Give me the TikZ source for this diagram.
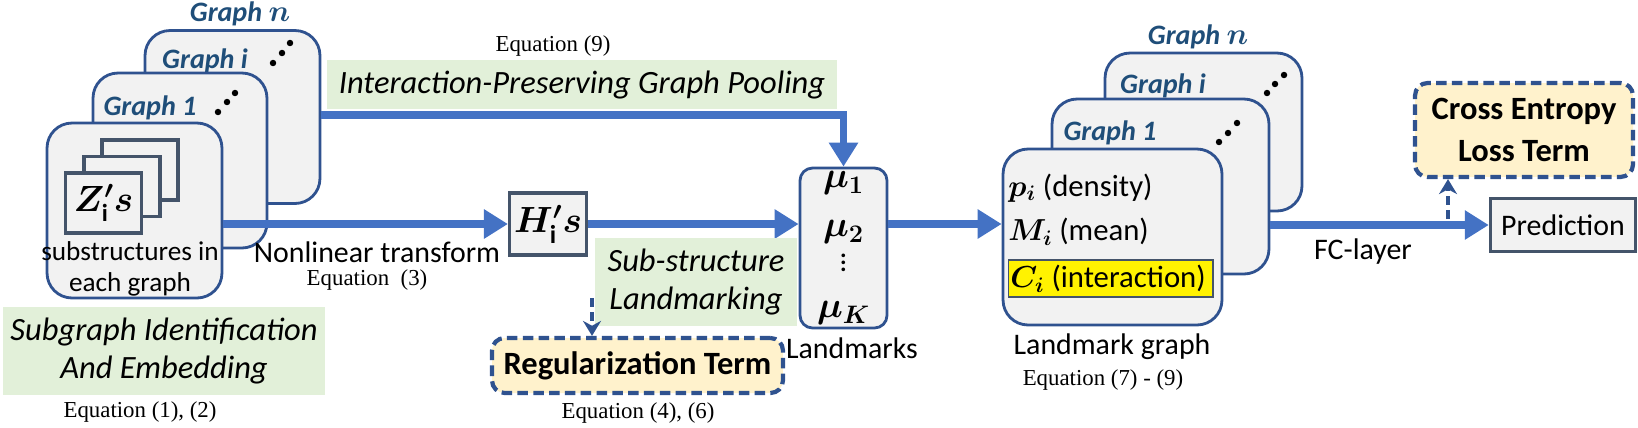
\documentclass[tikz,border=0pt]{standalone}
\usepackage{amsmath,bm}
\usepackage{fontspec}
\setmainfont{Carlito}
\newfontfamily\tms{Liberation Serif}
\usetikzlibrary{arrows.meta,positioning}
\definecolor{barrow}{HTML}{4472C4}
\definecolor{bord}{HTML}{2F528F}
\definecolor{cfill}{HTML}{F2F2F2}
\definecolor{gfill}{HTML}{E2F0D9}
\definecolor{yfill}{HTML}{FFF2CC}
\definecolor{lblue}{HTML}{1F4E79}
\definecolor{sqb}{HTML}{44546A}
\tikzset{
 card/.style={draw=bord,line width=1.6pt,fill=cfill,rounded corners=0.5cm,inner sep=0pt},
 glabel/.style={text=lblue,font=\fontsize{16}{18}\selectfont\bfseries\itshape},
 green/.style={fill=gfill,inner sep=0pt,font=\fontsize{18.5}{22}\selectfont\itshape,align=center},
 eq/.style={font=\tms\fontsize{13}{15}\selectfont},
 txt/.style={font=\fontsize{16}{18}\selectfont,align=center},
 big/.style={draw=barrow,line width=4.4pt,-{Triangle[length=0.48cm,width=0.56cm]}},
 dsh/.style={draw=bord,line width=2pt,dash pattern=on 5pt off 3pt,-{Stealth[length=0.3cm,width=0.36cm]}},
 dbox/.style={draw=bord,line width=2.4pt,dash pattern=on 6pt off 3pt,fill=yfill,rounded corners=0.25cm,font=\fontsize{18.5}{24}\selectfont\bfseries,align=center,inner sep=0pt},
 sq/.style={draw=sqb,line width=1.8pt,fill=cfill,inner sep=0pt,minimum width=1.52cm,minimum height=1.2cm},
 dot/.style={fill=black,circle,inner sep=1.3pt},
 lmt/.style={anchor=west,inner sep=0pt,font=\fontsize{17.5}{19}\selectfont}
}
\begin{document}
\begin{tikzpicture}[x=0.02cm,y=-0.02cm]
\useasboundingbox (0,0) rectangle (1638,427);
% left stack
\node[card,minimum width=3.5cm,minimum height=3.46cm] (ln) at (232.5,117) {};
\node[glabel] (lnl) at (240,14) {Graph $\bm{n}$};
\node[glabel] (lil) at (205,61) {Graph i};
\node[dot] (d1) at (273,63) {}; \node[dot] (d2) at (282,53) {}; \node[dot] (d3) at (290,43) {};
\node[card,minimum width=3.48cm,minimum height=3.5cm] (li) at (180,160.5) {};
\node[glabel] (l1l) at (150,108) {Graph 1};
\node[dot] (d4) at (218,112) {}; \node[dot] (d5) at (227,102) {}; \node[dot] (d6) at (235,93) {};
\node[card,minimum width=3.5cm,minimum height=3.5cm] (l1) at (134.5,210.5) {};
\node[sq] (s3) at (140,170) {};
\node[sq] (s2) at (122,186.5) {};
\node[sq] (s1) at (103.5,203) {\fontsize{20}{22}\selectfont$\bm{Z'_{\mathrm{i}}s}$};
\node[txt,font=\fontsize{15.5}{17.5}\selectfont] (sub) at (130,269) {substructures in\\each graph};
% top pooling path
\node[eq] (eq9) at (553,46) {Equation (9)};
\node[green,minimum width=10.2cm,minimum height=0.98cm] (ipgp) at (582,84.5) {Interaction-Preserving Graph Pooling};
\node[draw=bord,line width=1.6pt,fill=cfill,rounded corners=0.25cm,minimum width=1.74cm,minimum height=3.2cm,inner sep=0pt,align=center,font=\fontsize{20}{22}\selectfont] (mu) at (843.5,248) {$\bm{\mu_1}$\\[6pt]$\bm{\mu_2}$\\[-2pt]{\fontsize{14}{14}\selectfont$\bm{\vdots}$}\\[4pt]$\bm{\mu_K}$};
\draw[big] (ln.east |- 0,115) -| (mu.north);
% middle path
\node[draw=sqb,line width=1.8pt,fill=cfill,minimum width=1.54cm,minimum height=1.24cm,inner sep=0pt,font=\fontsize{21}{22}\selectfont] (h) at (548,224) {$\bm{H'_{\mathrm{i}}s}$};
\draw[big] (l1.east |- h) -- (h.west);
\draw[big] (h.east) -- (mu.west |- h);
\node[txt,font=\fontsize{17}{19}\selectfont] (nlt) at (377,252) {Nonlinear transform};
\node[eq] (eq3) at (367,280) {Equation~~(3)};
\node[green,minimum width=4.04cm,minimum height=1.76cm] (ssl) at (696,282) {Sub-structure\\Landmarking};
\coordinate (rd) at (592,298);
\node[dbox,minimum width=5.82cm,minimum height=1.1cm] (reg) at (637.5,365.5) {Regularization Term};
\draw[dsh] (rd) -- (rd |- reg.north);
\node[eq] (eq46) at (638,413) {Equation (4), (6)};
\node[txt,font=\fontsize{17}{19}\selectfont] (lm) at (852,348) {Landmarks};
\node[green,minimum width=6.44cm,minimum height=1.76cm] (sie) at (164,351) {Subgraph Identification\\And Embedding};
\node[eq] (eq12) at (140,412) {Equation (1), (2)};
% landmark stack
\node[card,minimum width=3.94cm,minimum height=3.16cm] (rn) at (1203.5,132) {};
\node[glabel] (rnl) at (1198,37) {Graph $\bm{n}$};
\node[glabel] (ril) at (1163,86) {Graph i};
\node[dot] (d7) at (1267,93) {}; \node[dot] (d8) at (1275,84) {}; \node[dot] (d9) at (1284,75) {};
\node[card,minimum width=4.34cm,minimum height=3.5cm] (ri) at (1160.5,186.5) {};
\node[glabel] (r1l) at (1110,133) {Graph 1};
\node[dot] (d10) at (1219,142) {}; \node[dot] (d11) at (1228,133) {}; \node[dot] (d12) at (1237,123) {};
\node[card,minimum width=4.38cm,minimum height=3.52cm] (r1) at (1112.5,237) {};
\node[lmt] (pi) at (1008,188) {$\bm{p_i}$ (density)};
\node[lmt] (mi) at (1008,232) {$\bm{M_i}$ (mean)};
\node[draw=sqb,line width=0.6pt,fill=yellow,minimum width=4.1cm,minimum height=0.74cm,inner sep=0pt] (ci) at (1110.5,278.5) {};
\node[lmt] (cit) at (1010,278.5) {$\bm{C_i}$ (interaction)};
\draw[big] (mu.east |- h) -- (r1.west |- h);
\node[txt,font=\fontsize{17}{19}\selectfont] (lg) at (1112,347) {Landmark graph};
\node[eq] (eq79) at (1103,380) {Equation (7) - (9)};
\node[draw=sqb,line width=2pt,fill=cfill,minimum width=2.9cm,minimum height=1.06cm,inner sep=0pt,font=\fontsize{17}{19}\selectfont] (pred) at (1563,225) {Prediction};
\draw[big] (ri.east |- pred) -- (pred.west);
\node[txt,font=\fontsize{17}{19}\selectfont] (fc) at (1363,252) {FC-layer};
\node[dbox,minimum width=4.36cm,minimum height=1.88cm] (ce) at (1524,130) {Cross Entropy\\Loss Term};
\coordinate (cd) at (1448,219);
\draw[dsh] (cd) -- (cd |- ce.south);
\end{tikzpicture}
\end{document}
